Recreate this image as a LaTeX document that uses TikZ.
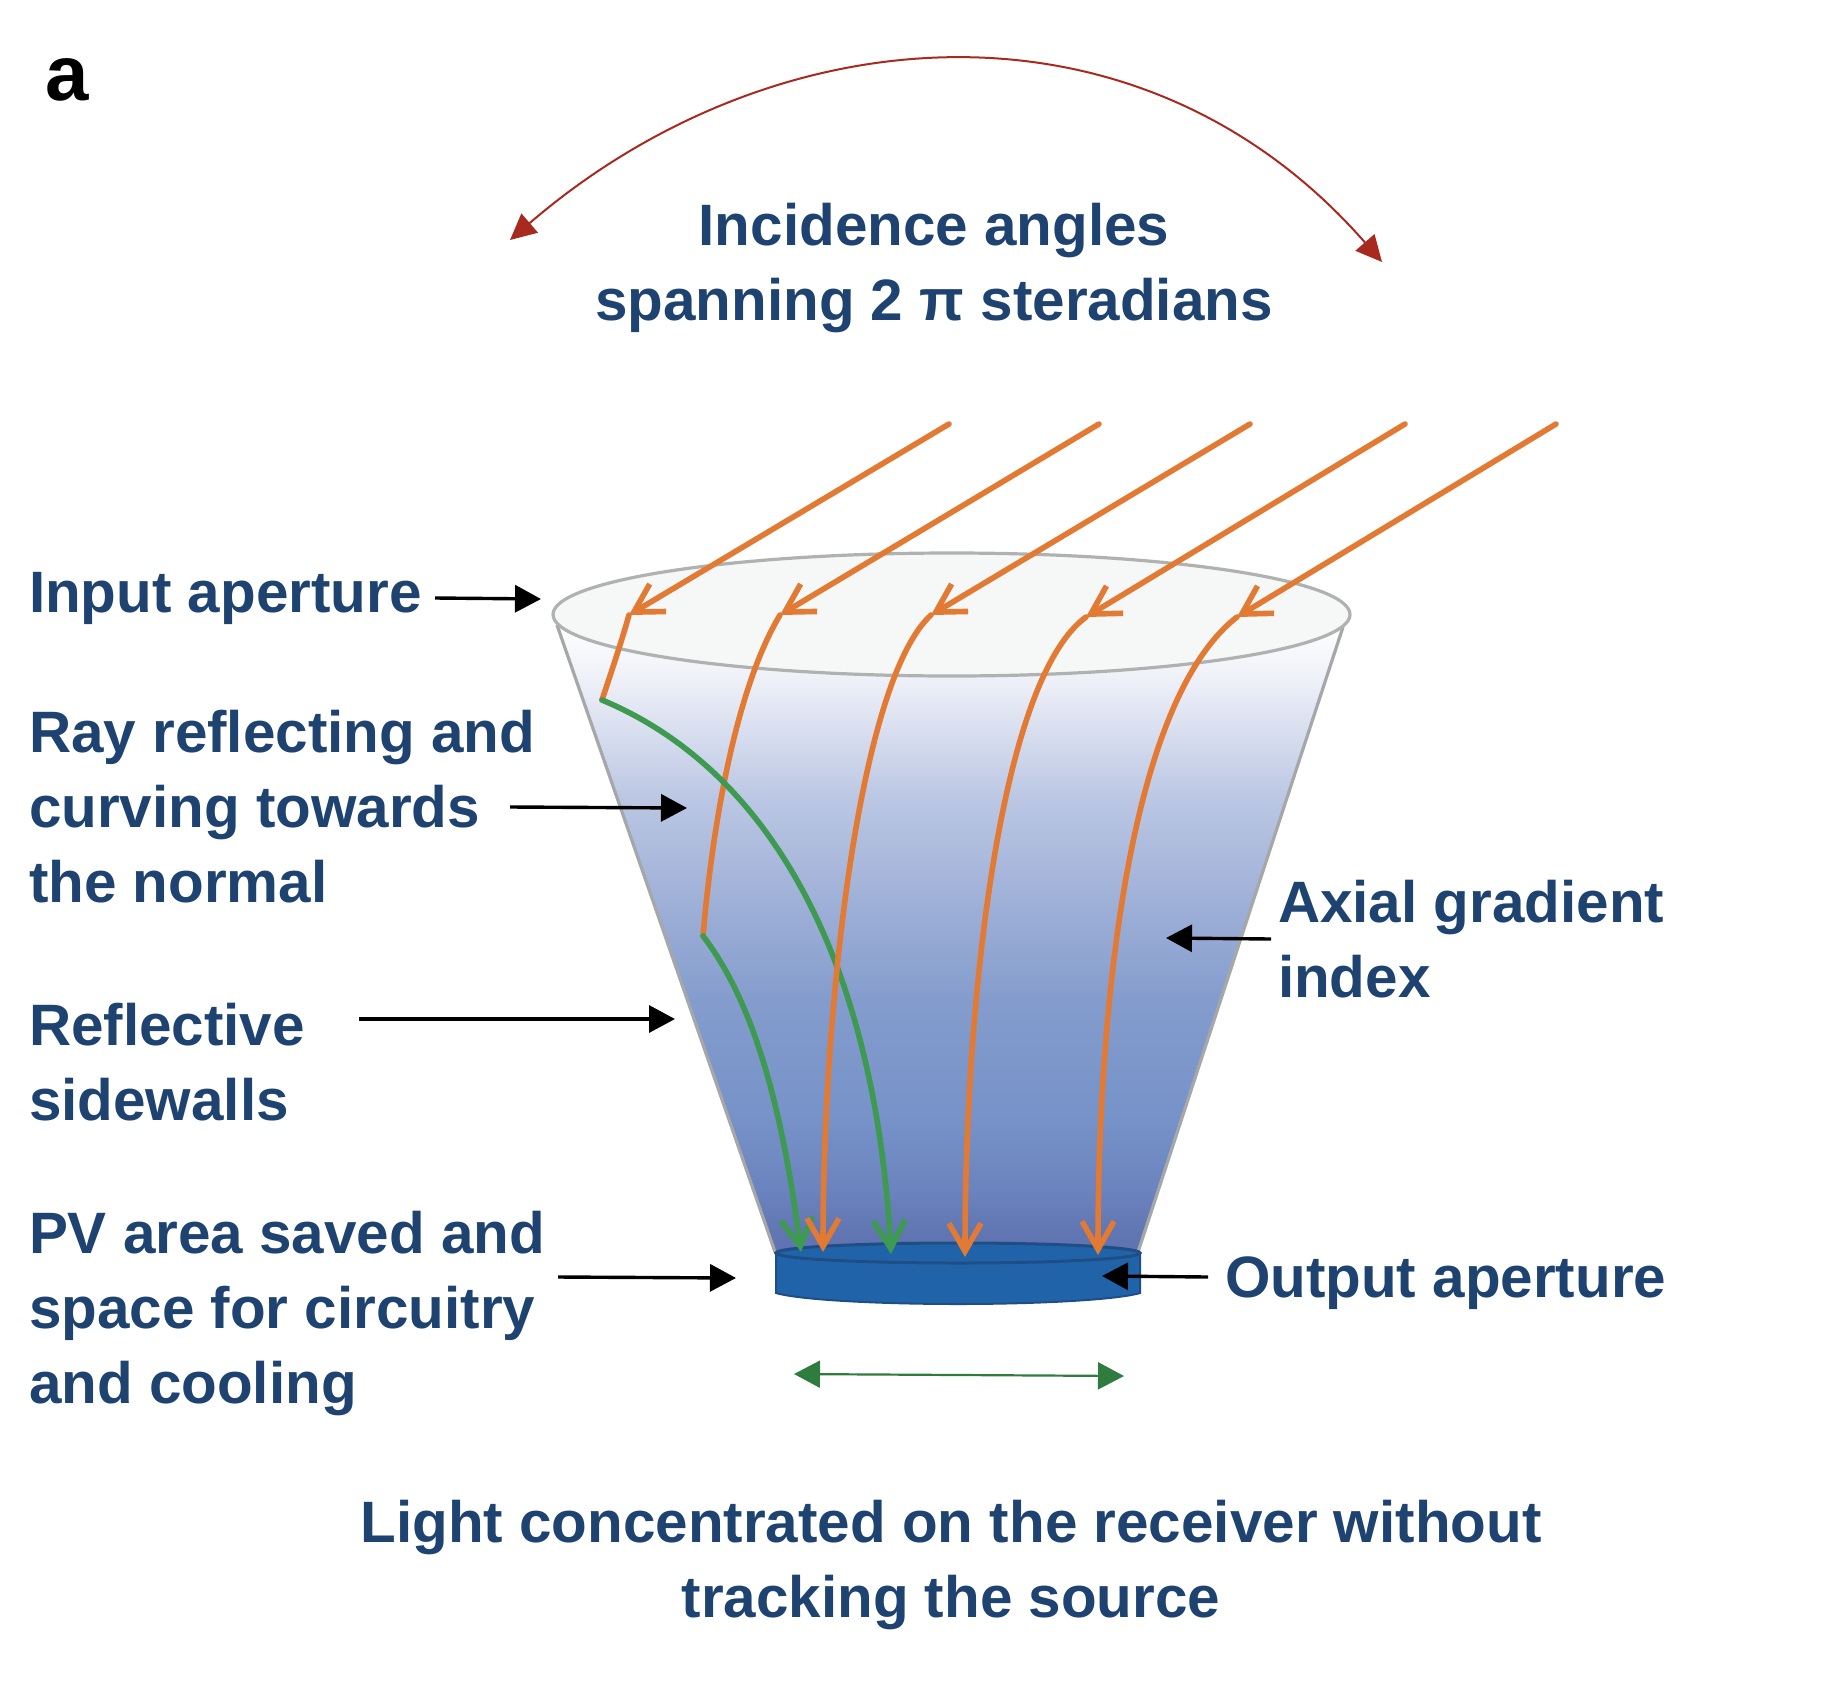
\documentclass[tikz,border=0pt]{standalone}
\usepackage{fontspec}
\setmainfont{Liberation Sans}
\usetikzlibrary{arrows.meta}
\definecolor{txt}{HTML}{1F4371}
\definecolor{rayo}{HTML}{E37A33}
\definecolor{rayg}{HTML}{3D9A50}
\definecolor{arcred}{HTML}{A82A1E}
\definecolor{spang}{HTML}{2E7D3E}
\definecolor{rimg}{HTML}{B0B1B1}
\definecolor{sideg}{HTML}{A6A7A8}
\definecolor{lid}{HTML}{F6F7F7}
\definecolor{cylf}{HTML}{2163A9}
\definecolor{cyls}{HTML}{1F4E85}
\definecolor{ga}{HTML}{5F74B0}
\definecolor{gb}{HTML}{6B83BE}
\definecolor{gc}{HTML}{7692C8}
\definecolor{gd}{HTML}{849CCD}
\definecolor{ge}{HTML}{A5B5DA}
\definecolor{gf}{HTML}{BAC6E3}
\definecolor{gg}{HTML}{EEF0F8}
\pgfdeclareverticalshading{conegrad}{100bp}{
 color(0bp)=(ga);
 color(26.2bp)=(ga);
 color(30.2bp)=(gb);
 color(35.7bp)=(gc);
 color(45.2bp)=(gd);
 color(54.8bp)=(ge);
 color(61.1bp)=(gf);
 color(70.6bp)=(gg);
 color(75bp)=(white);
 color(100bp)=(white)}
\tikzset{
 lbl/.style={text=txt,font=\fontsize{29.2}{37.5}\selectfont\bfseries,inner sep=0pt,outer sep=0pt,align=left},
 lblc/.style={lbl,align=center},
 callout/.style={draw=black,line width=1.7pt,-{Triangle[length=13pt,width=13.5pt]}},
 rayin/.style={draw=rayo,line width=2.8pt,line cap=round,-{Straight Barb[length=14pt,width=16pt,line width=2.8pt]}},
 raybend/.style={draw=rayo,line width=2.8pt,line cap=round},
 rayend/.style={draw=rayo,line width=2.8pt,line cap=round,-{Straight Barb[length=14pt,width=16pt,line width=2.8pt]}},
 greenend/.style={draw=rayg,line width=2.8pt,line cap=round,-{Straight Barb[length=14pt,width=16pt,line width=2.8pt]}},
 span/.style={draw=arcred,line width=1pt,{Triangle[length=13pt,width=12.5pt,fill=arcred]}-{Triangle[length=13pt,width=12.5pt,fill=arcred]}},
 dbl/.style={draw=spang,line width=1.1pt,{Triangle[length=13pt,width=13.5pt]}-{Triangle[length=13pt,width=13.5pt]}}
}
\begin{document}
\begin{tikzpicture}[x=0.5pt,y=-0.5pt]
\useasboundingbox (0,0) rectangle (1824,1696);
% cone
\shade[shading=conegrad] (557,625) -- (1343,625) -- (1138,1255) -- (775,1255) -- cycle;
\draw[sideg,line width=1.6pt] (557,625) -- (775,1252);
\draw[sideg,line width=1.6pt] (1343,627) -- (1138,1252);
\draw[rimg,line width=1.6pt,fill=lid] (951.5,614.5) ellipse [x radius=398.5,y radius=61.5];
% receiver
\draw[cyls,line width=1pt,fill=cylf] (776,1253) -- (776,1293) .. controls (800,1300) and (880,1304) .. (958,1304) .. controls (1036,1304) and (1116,1300) .. (1140,1293) -- (1140,1253) -- cycle;
\draw[cyls,line width=1.5pt,fill=cylf] (958,1253) ellipse [x radius=182,y radius=10];
% coordinates
\coordinate (r1s) at (949,424);
\coordinate (r2s) at (1099,424);
\coordinate (r3s) at (1250,424);
\coordinate (r4s) at (1405,424);
\coordinate (r5s) at (1556,424);
\coordinate (r1t) at (629,615);
\coordinate (r2t) at (780,615);
\coordinate (r3t) at (931,615);
\coordinate (r4t) at (1086,617);
\coordinate (r5t) at (1237,617);
\coordinate (b1) at (602,700);
\coordinate (b2) at (703,936);
\coordinate (g1e) at (891,1254);
\coordinate (g2e) at (801,1252);
\coordinate (r3e) at (823,1252);
\coordinate (r4e) at (965,1257);
\coordinate (r5e) at (1098,1255);
% rays
\draw[rayin] (r1s) -- (r1t);
\draw[rayin] (r2s) -- (r2t);
\draw[rayin] (r3s) -- (r3t);
\draw[rayin] (r4s) -- (r4t);
\draw[rayin] (r5s) -- (r5t);
\draw[raybend] (r1t) .. controls (622,640) and (612,670) .. (b1);
\draw[raybend] (r2t) .. controls (735,690) and (712,830) .. (b2);
\draw[greenend] (b1) .. controls (770,770) and (875,960) .. (g1e);
\draw[greenend] (b2) .. controls (760,1010) and (785,1130) .. (g2e);
\draw[rayend] (r3t) .. controls (860,680) and (823,1000) .. (r3e);
\draw[rayend] (r4t) .. controls (1000,680) and (965,1000) .. (r4e);
\draw[rayend] (r5t) .. controls (1130,700) and (1098,1000) .. (r5e);
% span arcs
\coordinate (arcL) at (510,240);
\coordinate (arcR) at (1382,262);
\draw[span] (arcL) .. controls (775,12) and (1140,-15) .. (arcR);
\coordinate (dblL) at (794,1374);
\coordinate (dblR) at (1124,1376);
\draw[dbl] (dblL) -- (dblR);
% labels
\node[lbl,anchor=base west,font=\fontsize{39}{39}\selectfont\bfseries,text=black] (panel) at (46,101) {a};
\node[lblc,anchor=base] (inc) at (934,320.5) {Incidence angles\\spanning 2 π steradians};
\node[lbl,anchor=base west] (input) at (29,612.5) {Input aperture};
\node[lbl,anchor=base west] (rayl) at (29,902.5) {Ray reflecting and\\curving towards\\the normal};
\node[lbl,anchor=base west] (refl) at (29,1120.5) {Reflective\\sidewalls};
\node[lbl,anchor=base west] (pv) at (29,1403.5) {PV area saved and\\space for circuitry\\and cooling};
\node[lbl,anchor=base west] (axial) at (1278,997.5) {Axial gradient\\index};
\node[lbl,anchor=base west] (output) at (1225,1297.5) {Output aperture};
\node[lblc,anchor=base] (light) at (951,1617.5) {Light concentrated on the receiver without\\tracking the source};
% callouts
\coordinate (c1a) at (435,598); \coordinate (c1b) at (541,599);
\coordinate (c2a) at (510,807); \coordinate (c2b) at (687,808);
\coordinate (c3a) at (359,1019); \coordinate (c3b) at (675,1019);
\coordinate (c4a) at (558,1277); \coordinate (c4b) at (736,1278);
\coordinate (c5a) at (1208,1277); \coordinate (c5b) at (1102,1276);
\coordinate (c6a) at (1271,939); \coordinate (c6b) at (1166,938);
\draw[callout] (c1a) -- (c1b);
\draw[callout] (c2a) -- (c2b);
\draw[callout] (c3a) -- (c3b);
\draw[callout] (c4a) -- (c4b);
\draw[callout] (c5a) -- (c5b);
\draw[callout] (c6a) -- (c6b);
\end{tikzpicture}
\end{document}
